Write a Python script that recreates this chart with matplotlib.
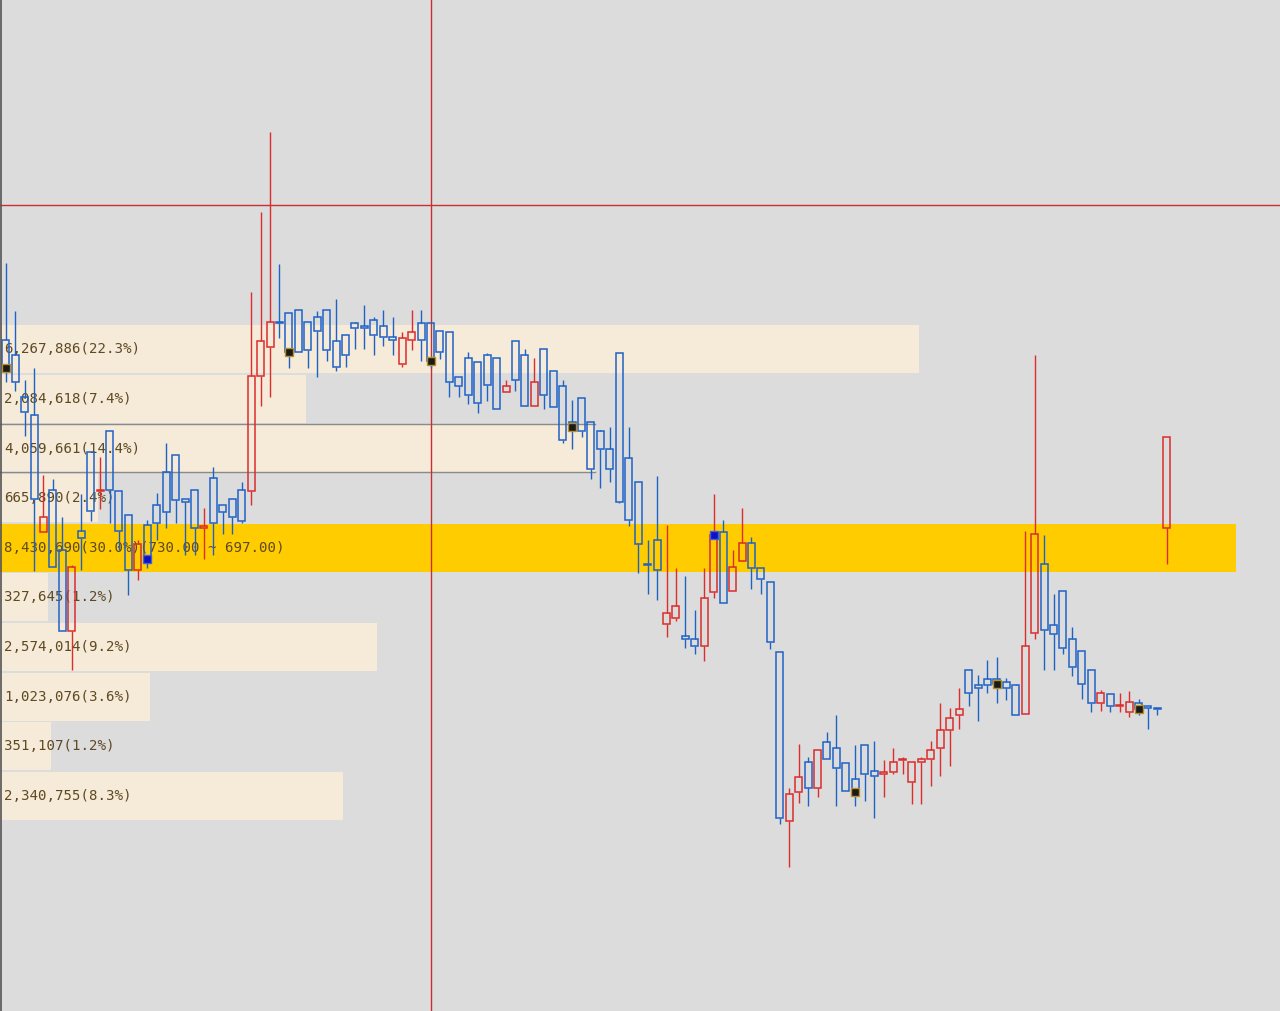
import matplotlib
matplotlib.use("Agg")
import matplotlib.pyplot as plt
from matplotlib.lines import Line2D

# ---------------- data ----------------
opens = [852, 842, 814, 802, 724, 752, 712, 658, 725, 777,
         751, 791, 751, 735, 699, 729, 742, 764, 775, 746,
         752, 727, 760, 742, 746, 752, 751, 828, 847, 864,
         870, 872, 864, 867, 872, 851, 855, 863, 861, 865,
         861, 854, 836, 852, 863, 863, 858, 857, 827, 840,
         837, 842, 840, 817, 851, 842, 808, 846, 831, 821,
         797, 813, 797, 791, 779, 843, 773, 757, 703, 719,
         663, 667, 655, 653, 648, 684, 724, 685, 705, 717,
         700, 691, 644, 532, 551, 571, 554, 584, 580, 570,
         560, 582, 565, 563, 564, 572, 558, 571, 573, 580,
         592, 602, 632, 622, 626, 626, 624, 622, 603, 657,
         703, 662, 685, 653, 645, 632, 610, 616, 608, 604,
         610, 608, 607, 727]
highs = [903, 871, 825, 833, 762, 759, 734, 702, 749, 777,
         774, 791, 751, 735, 719, 732, 750, 783, 775, 746,
         752, 740, 767, 742, 746, 757, 884, 937, 990, 902,
         870, 872, 864, 871, 872, 879, 855, 864, 875, 867,
         872, 867, 857, 872, 872, 863, 858, 857, 827, 844,
         837, 843, 840, 825, 851, 846, 840, 846, 831, 825,
         812, 813, 797, 792, 794, 843, 794, 757, 719, 761,
         729, 700, 695, 672, 700, 749, 732, 712, 740, 721,
         700, 691, 644, 554, 583, 574, 579, 591, 602, 570,
         582, 582, 585, 572, 580, 574, 571, 574, 585, 610,
         607, 620, 632, 629, 639, 641, 627, 623, 725, 842,
         722, 683, 685, 661, 645, 632, 619, 616, 617, 618,
         613, 608, 607, 787]
lows = [824, 818, 788, 698, 724, 701, 658, 632, 699, 731,
        739, 730, 712, 682, 692, 700, 719, 727, 730, 709,
        709, 706, 709, 723, 723, 730, 742, 808, 814, 853,
        833, 844, 833, 827, 838, 831, 834, 846, 846, 842,
        848, 842, 834, 845, 838, 833, 839, 814, 814, 809,
        803, 811, 806, 817, 818, 808, 808, 806, 807, 783,
        779, 787, 759, 753, 757, 743, 728, 697, 683, 679,
        654, 665, 647, 643, 638, 680, 677, 685, 705, 686,
        683, 646, 530, 501, 544, 542, 548, 573, 542, 552,
        542, 545, 534, 548, 563, 563, 543, 543, 555, 562,
        568, 593, 608, 598, 617, 610, 612, 602, 603, 653,
        632, 632, 643, 628, 613, 604, 605, 604, 604, 601,
        602, 593, 602, 703]
closes = [833, 824, 804, 746, 734, 701, 658, 701, 720, 738,
          752, 752, 725, 699, 716, 706, 730, 737, 745, 744,
          727, 728, 730, 737, 734, 731, 828, 851, 864, 863,
          844, 844, 845, 858, 845, 834, 842, 860, 860, 855,
          854, 852, 853, 857, 852, 838, 844, 824, 821, 815,
          810, 822, 806, 821, 825, 808, 824, 815, 807, 785,
          794, 791, 766, 779, 766, 744, 732, 716, 702, 699,
          670, 675, 653, 648, 680, 722, 677, 701, 717, 700,
          693, 651, 534, 550, 561, 554, 579, 573, 567, 552,
          551, 563, 562, 564, 571, 573, 571, 573, 579, 592,
          600, 606, 617, 620, 622, 623, 620, 602, 648, 723,
          659, 656, 647, 634, 623, 610, 617, 608, 609, 611,
          606, 607, 606, 787]

# volume profile (rows from top to bottom)
row_tops = [862, 829, 796, 763, 730, 697, 664, 631, 598, 565]
row_volumes = [6267886, 2084618, 4059661, 665890, 8430690,
               327645, 2574014, 1023076, 351107, 2340755]
row_percents = [22.3, 7.4, 14.4, 2.4, 30.0, 1.2, 9.2, 3.6, 1.2, 8.3]
ROW_STEP = 33
HIGHLIGHT_ROW = 2

cross_index = 45
cross_price = 941.6
marker_every = 15

# ---------------- style ----------------
BG = "#dcdcdc"
CREAM = "#f6ead8"
GOLD = "#ffcc00"
UP = "#dc2c2c"
DOWN = "#1f62c6"
TXT = "#5e4a22"

W, H = 1280, 1011
fig = plt.figure(figsize=(W / 100, H / 100), dpi=100, facecolor=BG)
ax = fig.add_axes([0, 0, 1, 1])
ax.set_facecolor(BG)
ax.axis("off")

px_per_bar = 9.44
x0_px = 5.7
xmin = -x0_px / px_per_bar
xmax = (W - x0_px) / px_per_bar
px_per_price = 1.503
y_top = 730 + 523 / px_per_price
y_bot = 730 - (H - 523) / px_per_price
ax.set_xlim(xmin, xmax)
ax.set_ylim(y_bot, y_top)

# volume profile bars
max_vol = max(row_volumes)
full_w = 1236 / px_per_bar
for i, (top, v, pc) in enumerate(zip(row_tops, row_volumes, row_percents)):
    w = v / max_vol * full_w
    col = GOLD if v == max_vol else CREAM
    ax.barh(top - ROW_STEP / 2, w, height=ROW_STEP - 1.0, left=xmin,
            color=col, edgecolor="none", zorder=1)
    label = f"{v:,}({pc:.1f}%)"
    if v == max_vol:
        label += f"({top:.2f} ~ {top - ROW_STEP:.2f})"
    ax.text(xmin + 4 / px_per_bar, top - ROW_STEP / 2, label,
            fontsize=10.2, family="DejaVu Sans Mono", color=TXT,
            va="center", ha="left", zorder=2)
    if i == HIGHLIGHT_ROW:
        for yy in (top - 0.2, top - ROW_STEP + 0.6):
            ax.plot([xmin, xmin + w], [yy, yy], color="#8a8a8a", lw=1.0, zorder=2)

# crosshair
ax.axvline(cross_index, color="#c83030", lw=1.0, zorder=3)
ax.axhline(cross_price, color="#c83030", lw=1.0, zorder=3)

# candles
body_w = 0.74
for i, (o, h, l, c) in enumerate(zip(opens, highs, lows, closes)):
    col = UP if c > o else DOWN
    top, bot = max(o, c), min(o, c)
    if h > top:
        ax.plot([i, i], [top, h], color=col, lw=1.0, zorder=4, solid_capstyle="butt")
    if l < bot:
        ax.plot([i, i], [l, bot], color=col, lw=1.0, zorder=4, solid_capstyle="butt")
    ax.bar(i, max(top - bot, 0.3), bottom=bot, width=body_w, fill=False,
           edgecolor=col, linewidth=1.1, zorder=5)

# period markers at close
for i in range(0, len(closes), marker_every):
    blue = (i % 60) == 15
    ax.plot(i, closes[i], marker="s", markersize=5.5,
            markerfacecolor="#1010c0" if blue else "#1a1a1a",
            markeredgecolor="#4060e0" if blue else "#b8902a",
            markeredgewidth=1.0, zorder=6, linestyle="none")

# left border
fig.add_artist(Line2D([0.0006, 0.0006], [0, 1], color="#555555", lw=1.2))

fig.savefig("out.png", dpi=100, facecolor=BG)
